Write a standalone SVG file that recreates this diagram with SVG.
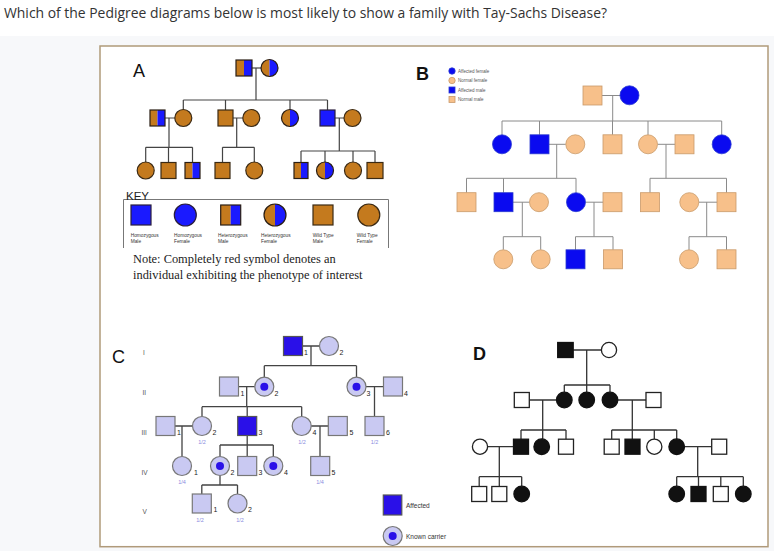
<svg xmlns="http://www.w3.org/2000/svg" width="774" height="551" viewBox="0 0 774 551">
<defs>
<style>
text{font-family:"Liberation Sans",Arial,sans-serif}
.title{font-family:"Open Sans","Liberation Sans",sans-serif;font-size:13.6px;fill:#333}
.pl{font-size:18px;fill:#111}
.br{fill:#c47a1e;stroke:#3b2a14;stroke-width:1.2}
.bl{fill:#1a1aff;stroke:#2a1e3c;stroke-width:1.2}
.hbr{fill:#c47a1e}
.hbl{fill:#1a1aff}
.ol{fill:none;stroke:#2a1e14;stroke-width:1.2}
.la{stroke:#444;stroke-width:1.2;fill:none}
.key{font-size:4.8px;fill:#333}
.note{font-family:"Liberation Serif","Times New Roman",serif;font-size:12.4px;fill:#222}
.tan{fill:#f7c08a;stroke:#c99a6a;stroke-width:0.8}
.bb{fill:#0a0af0;stroke:#2a3ad0;stroke-width:0.8}
.lb{stroke:#8a8a8a;stroke-width:1;fill:none}
.leg{font-size:4.5px;fill:#555}
.lav{fill:#c9c9f2;stroke:#777;stroke-width:1.2}
.aff{fill:#2a10e8;stroke:#555;stroke-width:1.2}
.dot{fill:#2a10e8}
.lc{stroke:#444;stroke-width:1.3;fill:none}
.num{font-size:7px;fill:#222}
.fr{font-size:5.5px;fill:#8a8ae0;text-anchor:middle}
.rom{font-size:6.5px;fill:#555}
.wd{fill:#fff;stroke:#222;stroke-width:1.3}
.kd{fill:#111;stroke:#111;stroke-width:1.3}
.ld{stroke:#333;stroke-width:1.3;fill:none}
</style>
</defs>
<rect width="774" height="551" fill="#fff"/>
<rect x="0" y="36" width="774" height="515" fill="#f7f8fa"/>
<rect x="100" y="46" width="668" height="500.7" fill="#fff" stroke="#b09a7a" stroke-width="1.5"/>
<text class="title" x="4" y="18" textLength="603" lengthAdjust="spacingAndGlyphs">Which of the Pedigree diagrams below is most likely to show a family with Tay-Sachs Disease?</text>

<!-- ================= PANEL A ================= -->
<text class="pl" x="133" y="77">A</text>
<g id="a-connectors">
<path class="la" d="M252 68H261"/>
<path class="la" d="M256 68V100" stroke="#999"/>
<path class="la" d="M183.3 100H327.5M183.3 100V109.5M225.5 100V110M290 100V109.5M327.5 100V110"/>
<path class="la" d="M165 118H174.8M169 118V147.3M145.7 147.3H192.5M145.7 147.3V162M168.5 147.3V162.5M192.5 147.3V162.5"/>
<path class="la" d="M233 118H242.8M236.7 118V147.3M222.5 147.3H254.3M222.5 147.3V162.5M254.3 147.3V162"/>
<path class="la" d="M335 118H344M339.3 118V151M301 151H375M301 151V162.5M325 151V162M353 151V162M375 151V162.5"/>
</g>
<g id="a-i1"><rect class="hbr" x="236" y="60" width="8" height="16"/><rect class="hbl" x="244" y="60" width="8" height="16"/><rect class="ol" x="236" y="60" width="16" height="16"/></g>
<g id="a-i2"><path class="hbr" d="M269.5 59.5A8.5 8.5 0 0 0 269.5 76.5Z"/><path class="hbl" d="M269.5 59.5A8.5 8.5 0 0 1 269.5 76.5Z"/><circle class="ol" cx="269.5" cy="68" r="8.5"/></g>
<g id="a-ii1"><rect class="hbr" x="150" y="110" width="7.5" height="16"/><rect class="hbl" x="157.5" y="110" width="7.5" height="16"/><rect class="ol" x="150" y="110" width="15" height="16"/></g>
<g id="a-ii2"><circle class="br" cx="183.3" cy="118" r="8.5"/></g>
<g id="a-ii3"><rect class="br" x="218" y="110" width="15" height="16"/></g>
<g id="a-ii4"><circle class="br" cx="251.3" cy="118" r="8.5"/></g>
<g id="a-ii5"><path class="hbr" d="M290 109.5A8.5 8.5 0 0 0 290 126.5Z"/><path class="hbl" d="M290 109.5A8.5 8.5 0 0 1 290 126.5Z"/><circle class="ol" cx="290" cy="118" r="8.5"/></g>
<g id="a-ii6"><rect class="bl" x="320" y="110" width="15" height="16"/></g>
<g id="a-ii7"><circle class="br" cx="352.5" cy="118" r="8.5"/></g>
<g id="a-iii1"><circle class="br" cx="145.7" cy="170.5" r="8.5"/></g>
<g id="a-iii2"><rect class="br" x="161" y="162.5" width="15" height="16"/></g>
<g id="a-iii3"><rect class="hbr" x="185" y="162.5" width="7.5" height="16"/><rect class="hbl" x="192.5" y="162.5" width="7.5" height="16"/><rect class="ol" x="185" y="162.5" width="15" height="16"/></g>
<g id="a-iii4"><rect class="br" x="215" y="162.5" width="15" height="16"/></g>
<g id="a-iii5"><circle class="br" cx="254.3" cy="170.5" r="8.5"/></g>
<g id="a-iii6"><rect class="hbr" x="294" y="162.5" width="7" height="16"/><rect class="hbl" x="301" y="162.5" width="7" height="16"/><rect class="ol" x="294" y="162.5" width="14" height="16"/></g>
<g id="a-iii7"><path class="hbr" d="M325 162A8.5 8.5 0 0 0 325 179Z"/><path class="hbl" d="M325 162A8.5 8.5 0 0 1 325 179Z"/><circle class="ol" cx="325" cy="170.5" r="8.5"/></g>
<g id="a-iii8"><circle class="br" cx="353" cy="170.5" r="8.5"/></g>
<g id="a-iii9"><rect class="br" x="367" y="162.5" width="16" height="16"/></g>

<g id="a-key">
<path d="M123.5 248V199.5H388.5V248" fill="none" stroke="#777" stroke-width="1"/>
<rect x="125" y="189" width="28" height="10" fill="#fff"/>
<text x="126" y="199.5" font-size="11.5" fill="#222">KEY</text>
<rect class="bl" x="131" y="205" width="20" height="20"/>
<circle class="bl" cx="185.3" cy="215" r="11"/>
<rect class="hbr" x="220.7" y="205" width="10" height="20"/><rect class="hbl" x="230.7" y="205" width="10" height="20"/><rect class="ol" x="220.7" y="205" width="20" height="20"/>
<path class="hbr" d="M275 204A11 11 0 0 0 275 226Z"/><path class="hbl" d="M275 204A11 11 0 0 1 275 226Z"/><circle class="ol" cx="275" cy="215" r="11"/>
<rect class="br" x="313" y="205" width="20" height="20"/>
<circle class="br" cx="368.8" cy="215" r="11"/>
<text class="key" x="130.7" y="236.5">Homozygous</text><text class="key" x="130.7" y="242.5">Male</text>
<text class="key" x="174" y="236.5">Homozygous</text><text class="key" x="174" y="242.5">Female</text>
<text class="key" x="218" y="236.5">Heterozygous</text><text class="key" x="218" y="242.5">Male</text>
<text class="key" x="261" y="236.5">Heterozygous</text><text class="key" x="261" y="242.5">Female</text>
<text class="key" x="312.7" y="236.5">Wild Type</text><text class="key" x="312.7" y="242.5">Male</text>
<text class="key" x="356.7" y="236.5">Wild Type</text><text class="key" x="356.7" y="242.5">Female</text>
</g>
<text class="note" x="133" y="263">Note: Completely red symbol denotes an</text>
<text class="note" x="133" y="279">individual exhibiting the phenotype of interest</text>

<!-- ================= PANEL B ================= -->
<text class="pl" x="416" y="80" font-size="17" font-weight="bold">B</text>
<g id="b-legend">
<circle class="bb" cx="452" cy="71" r="3.2"/><text class="leg" x="458" y="72.6">Affected female</text>
<circle class="tan" cx="452" cy="80.5" r="3.2"/><text class="leg" x="458" y="82.1">Normal female</text>
<rect class="bb" x="449" y="87" width="6" height="6"/><text class="leg" x="458" y="91.6">Affected male</text>
<rect class="tan" x="449" y="96.5" width="6" height="6"/><text class="leg" x="458" y="101.1">Normal male</text>
</g>
<g id="b-connectors">
<path class="lb" d="M602 95.5H620M612.7 95.5V121M502 121H721.7M502 121V134.8M539.5 121V134.8M612.5 121V134.8M648 121V134.8M721.7 121V134.8"/>
<path class="lb" d="M549 144.3H565.8M556.7 144.3V178.3M466.5 178.3H576M466.5 178.3V192.7M503.5 178.3V192.7M576 178.3V192.7"/>
<path class="lb" d="M657.5 144.3H675M666 144.3V178.3M650 178.3H726.5M650 178.3V192.7M726.5 178.3V192.7"/>
<path class="lb" d="M513 202.2H529.5M522.3 202.2V236.7M503.3 236.7H540.7M503.3 236.7V249.8M540.7 236.7V249.8"/>
<path class="lb" d="M585.5 202.2H603M594 202.2V236.7M575.5 236.7H613M575.5 236.7V249.8M613 236.7V249.8"/>
<path class="lb" d="M698.8 202.2H717M706.7 202.2V236.7M689 236.7H726.5M689 236.7V249.8M726.5 236.7V249.8"/>
</g>
<g id="b-i1"><rect class="tan" x="583" y="86" width="19" height="19"/></g>
<g id="b-i2"><circle class="bb" cx="629.5" cy="95.3" r="9.5"/></g>
<g id="b-ii1"><circle class="bb" cx="502" cy="144.3" r="9.5"/></g>
<g id="b-ii2"><rect class="bb" x="530" y="134.8" width="19" height="19"/></g>
<g id="b-ii3"><circle class="tan" cx="575.3" cy="144.3" r="9.5"/></g>
<g id="b-ii4"><rect class="tan" x="603" y="134.8" width="19" height="19"/></g>
<g id="b-ii5"><circle class="tan" cx="648" cy="144.3" r="9.5"/></g>
<g id="b-ii6"><rect class="tan" x="675" y="134.8" width="19" height="19"/></g>
<g id="b-ii7"><circle class="bb" cx="721.7" cy="144.3" r="9.5"/></g>
<g id="b-iii1"><rect class="tan" x="457" y="192.7" width="19" height="19"/></g>
<g id="b-iii2"><rect class="bb" x="494" y="192.7" width="19" height="19"/></g>
<g id="b-iii3"><circle class="tan" cx="539" cy="202.2" r="9.5"/></g>
<g id="b-iii4"><circle class="bb" cx="576" cy="202.2" r="9.5"/></g>
<g id="b-iii5"><rect class="tan" x="603" y="192.7" width="19" height="19"/></g>
<g id="b-iii6"><rect class="tan" x="640.5" y="192.7" width="19" height="19"/></g>
<g id="b-iii7"><circle class="tan" cx="689.3" cy="202.2" r="9.5"/></g>
<g id="b-iii8"><rect class="tan" x="717" y="192.7" width="19" height="19"/></g>
<g id="b-iv1"><circle class="tan" cx="503.3" cy="259.3" r="9.5"/></g>
<g id="b-iv2"><circle class="tan" cx="540.7" cy="259.3" r="9.5"/></g>
<g id="b-iv3"><rect class="bb" x="566" y="249.8" width="19" height="19"/></g>
<g id="b-iv4"><rect class="tan" x="603.5" y="249.8" width="19" height="19"/></g>
<g id="b-iv5"><circle class="tan" cx="689" cy="259.3" r="9.5"/></g>
<g id="b-iv6"><rect class="tan" x="717" y="249.8" width="19" height="19"/></g>

<!-- ================= PANEL C ================= -->
<text class="pl" x="112" y="363">C</text>
<text class="rom" x="143" y="355">I</text>
<text class="rom" x="142.5" y="395">II</text>
<text class="rom" x="141.5" y="435">III</text>
<text class="rom" x="141.5" y="475">IV</text>
<text class="rom" x="142.5" y="514">V</text>
<g id="c-connectors">
<path class="lc" d="M302.5 346H319.5M311 346V365.7M264.3 365.7H356.5M264.3 365.7V377.2M356.5 365.7V377.2"/>
<path class="lc" d="M238.5 386.7H254.8M246.7 386.7V406.7M202 406.7H301.7M202 406.7V416.5M247.2 406.7V416.5M301.7 406.7V416.5"/>
<path class="lc" d="M366 386.7H383.5M374.5 386.7V416.5"/>
<path class="lc" d="M175 426H192.5M182 426V456.5"/>
<path class="lc" d="M311.2 426H328.3M320 426V456.5"/>
<path class="lc" d="M247.2 435.5V445M220 445H273.3M220 445V456.5M273.3 445V456.5M247.2 445V456.5"/>
<path class="lc" d="M220 475.5V485M201.8 485H237.5M201.8 485V494M237.5 485V494"/>
</g>
<g id="c-i1"><rect class="aff" x="283.5" y="336.5" width="19" height="19"/><text class="num" x="304" y="354.5">1</text></g>
<g id="c-i2"><circle class="lav" cx="329" cy="346" r="9.5"/><text class="num" x="339.5" y="354.5">2</text></g>
<g id="c-ii1"><rect class="lav" x="219.5" y="377" width="19" height="19"/><text class="num" x="240.5" y="395.5">1</text></g>
<g id="c-ii2"><circle class="lav" cx="264.3" cy="386.7" r="9.5"/><circle class="dot" cx="264.3" cy="386.7" r="4"/><text class="num" x="274.5" y="395.5">2</text></g>
<g id="c-ii3"><circle class="lav" cx="356.5" cy="386.7" r="9.5"/><circle class="dot" cx="356.5" cy="386.7" r="4"/><text class="num" x="366.5" y="395.5">3</text></g>
<g id="c-ii4"><rect class="lav" x="383.5" y="377" width="19" height="19"/><text class="num" x="404" y="395.5">4</text></g>
<g id="c-iii1"><rect class="lav" x="156" y="416.5" width="19" height="19"/><text class="num" x="177" y="434.5">1</text></g>
<g id="c-iii2"><circle class="lav" cx="202" cy="426" r="9.5"/><text class="num" x="212.5" y="434.5">2</text><text class="fr" x="202" y="443.5">1/2</text></g>
<g id="c-iii3"><rect class="aff" x="237.7" y="416.5" width="19" height="19"/><text class="num" x="258.5" y="434.5">3</text></g>
<g id="c-iii4"><circle class="lav" cx="301.7" cy="426" r="9.5"/><text class="num" x="312.5" y="434.5">4</text><text class="fr" x="302" y="443.5">1/2</text></g>
<g id="c-iii5"><rect class="lav" x="328.3" y="416.5" width="19" height="19"/><text class="num" x="349.5" y="434.5">5</text></g>
<g id="c-iii6"><rect class="lav" x="365" y="416.5" width="19" height="19"/><text class="num" x="386" y="434.5">6</text><text class="fr" x="374.5" y="443.5">1/2</text></g>
<g id="c-iv1"><circle class="lav" cx="182" cy="466" r="9.5"/><text class="num" x="194" y="474.5">1</text><text class="fr" x="182" y="484">1/4</text></g>
<g id="c-iv2"><circle class="lav" cx="220" cy="466" r="9.5"/><circle class="dot" cx="220" cy="466" r="4"/><text class="num" x="230.5" y="474.5">2</text></g>
<g id="c-iv3"><rect class="lav" x="237.7" y="456.5" width="19" height="19"/><text class="num" x="258.5" y="474.5">3</text></g>
<g id="c-iv4"><circle class="lav" cx="273.3" cy="466" r="9.5"/><circle class="dot" cx="273.3" cy="466" r="4"/><text class="num" x="284" y="474.5">4</text></g>
<g id="c-iv5"><rect class="lav" x="310.7" y="456.5" width="19" height="19"/><text class="num" x="331.5" y="474.5">5</text><text class="fr" x="320" y="484">1/4</text></g>
<g id="c-v1"><rect class="lav" x="192.3" y="494" width="19" height="19"/><text class="num" x="213.5" y="512">1</text><text class="fr" x="200" y="522">1/2</text></g>
<g id="c-v2"><circle class="lav" cx="237.5" cy="503.5" r="9.5"/><text class="num" x="248" y="512">2</text><text class="fr" x="240" y="522">1/2</text></g>
<g id="c-legend">
<rect class="aff" x="383.3" y="495" width="18.5" height="20"/>
<text x="406" y="508" font-size="6.5" fill="#333">Affected</text>
<circle class="lav" cx="392.7" cy="536" r="9.5"/><circle class="dot" cx="392.7" cy="536" r="4"/>
<text x="406" y="538.5" font-size="6.5" fill="#333">Known carrier</text>
</g>

<!-- ================= PANEL D ================= -->
<text class="pl" x="473" y="360" font-size="17" font-weight="bold">D</text>
<g id="d-connectors">
<path class="ld" d="M573.2 350H601.4M586.7 350V385M564.3 385H610M564.3 385V392.2M586.7 385V392.2M610 385V392.2"/>
<path class="ld" d="M529.3 400H556.5M542.7 400V430M521 430H566M521 430V439.2M542.7 430V439M566 430V439.2"/>
<path class="ld" d="M617.8 400H646M632.3 400V430M611.7 430H676.7M611.7 430V439.2M632.3 430V439.2M654.3 430V439.1M676.7 430V439"/>
<path class="ld" d="M487.6 446.7H513.5M499.3 446.7V476.7M479.2 476.7H521.7M479.2 476.7V486.5M499.3 476.7V486.5M521.7 476.7V486.2"/>
<path class="ld" d="M684.5 446.7H711.7M697.7 446.7V476.7M676.7 476.7H743.3M676.7 476.7V486.2M698.5 476.7V486.5M720.8 476.7V486.5M743.3 476.7V486.2"/>
</g>
<g id="d-i1"><rect class="kd" x="557.7" y="342.5" width="15.5" height="15"/></g>
<g id="d-i2"><circle class="wd" cx="609" cy="350" r="7.6"/></g>
<g id="d-ii1"><rect class="wd" x="514.3" y="392.5" width="15" height="15"/></g>
<g id="d-ii2"><circle class="kd" cx="564.3" cy="400" r="7.8"/></g>
<g id="d-ii3"><circle class="kd" cx="586.7" cy="400" r="7.8"/></g>
<g id="d-ii4"><circle class="kd" cx="610" cy="400" r="7.8"/></g>
<g id="d-ii5"><rect class="wd" x="646" y="392.5" width="15" height="15"/></g>
<g id="d-iii1"><circle class="wd" cx="480" cy="446.7" r="7.6"/></g>
<g id="d-iii2"><rect class="kd" x="513.5" y="439.2" width="15" height="15"/></g>
<g id="d-iii3"><circle class="kd" cx="541.7" cy="446.7" r="7.8"/></g>
<g id="d-iii4"><rect class="wd" x="558.5" y="439.2" width="15" height="15"/></g>
<g id="d-iii5"><rect class="wd" x="604.2" y="439.2" width="15" height="15"/></g>
<g id="d-iii6"><rect class="kd" x="625" y="439.2" width="15" height="15"/></g>
<g id="d-iii7"><circle class="wd" cx="654.3" cy="446.7" r="7.6"/></g>
<g id="d-iii8"><circle class="kd" cx="676.7" cy="446.7" r="7.8"/></g>
<g id="d-iii9"><rect class="wd" x="711.7" y="439.2" width="15" height="15"/></g>
<g id="d-iv1"><rect class="wd" x="471.7" y="486.5" width="15" height="15"/></g>
<g id="d-iv2"><rect class="wd" x="491.8" y="486.5" width="15" height="15"/></g>
<g id="d-iv3"><circle class="kd" cx="521.7" cy="494" r="7.8"/></g>
<g id="d-iv4"><circle class="kd" cx="676.7" cy="494" r="7.8"/></g>
<g id="d-iv5"><rect class="kd" x="691" y="486.5" width="15" height="15"/></g>
<g id="d-iv6"><rect class="wd" x="713.3" y="486.5" width="15" height="15"/></g>
<g id="d-iv7"><circle class="kd" cx="743.3" cy="494" r="7.8"/></g>
</svg>
